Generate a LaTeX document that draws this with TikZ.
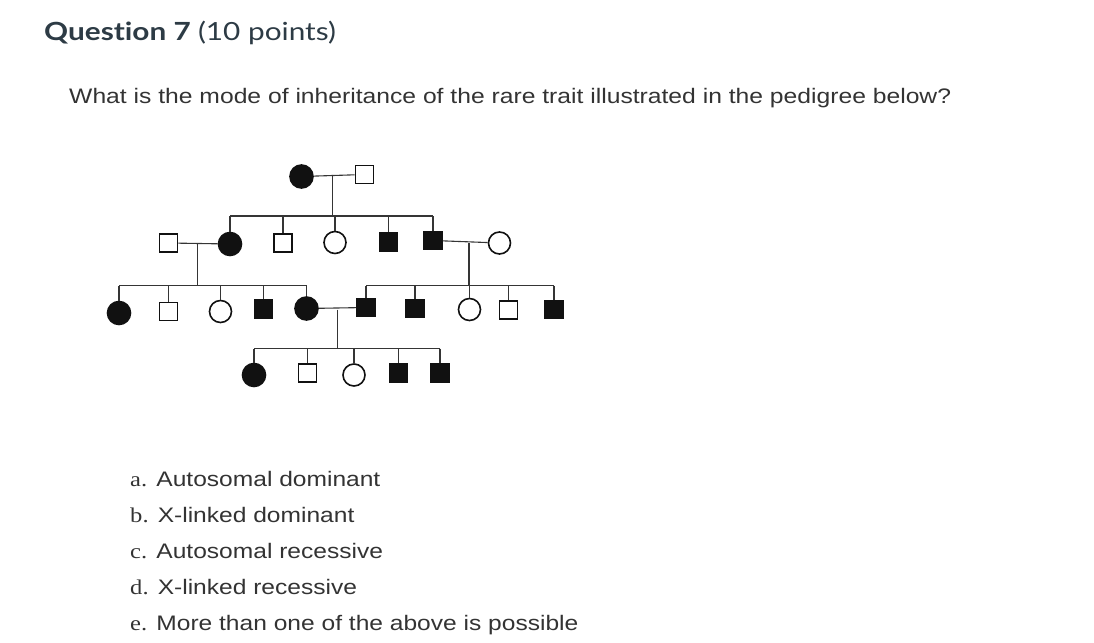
\documentclass[tikz,border=0pt]{standalone}
\usepackage{fontspec}
\setmainfont{Liberation Sans}
\newfontfamily\latofont[Ligatures=NoCommon]{Lato}
\newfontfamily\optletter{Liberation Serif}
\definecolor{headgray}{HTML}{2D3B45}
\definecolor{bodygray}{HTML}{333333}
\definecolor{pedink}{HTML}{111111}
\tikzset{
  pedline/.style={draw=pedink!85, line width=1.1pt},
  sym/.style={draw=pedink, line width=1.6pt, inner sep=0pt},
  affsq/.style={sym, rectangle, fill=pedink, minimum size=18pt},
  unsq/.style={sym, rectangle, fill=white, minimum size=18pt},
  affci/.style={sym, circle, fill=pedink, minimum size=23pt},
  unci/.style={sym, circle, fill=white, minimum size=22pt},
  wide/.style={xscale=#1, transform shape, anchor=base west, inner sep=0pt},
  opt/.style={wide=1.17, font=\fontsize{21}{24}\selectfont, text=bodygray}
}
\begin{document}
\begin{tikzpicture}[x=1pt, y=-1pt]
\useasboundingbox (0,0) rectangle (1094,642);
\node[wide=1.19, text=headgray] (title) at (44,41) {\latofont\fontsize{25}{30}\selectfont\bfseries Question 7 \mdseries(10 points)};
\node[wide=1.175, text=bodygray, font=\fontsize{21}{24}\selectfont] (question) at (69,103) {What is the mode of inheritance of the rare trait illustrated in the pedigree below?};
% generation I
\node[affci] (i1) at (301.5,176.5) {}; \node[unsq] (i2) at (364.5,174.5) {};
% generation II
\node[unsq] (ii1) at (168.5,243) {}; \node[affci] (ii2) at (230,244) {}; \node[unsq] (ii3) at (283,243) {};
\node[unci] (ii4) at (335,242.5) {}; \node[affsq] (ii5) at (388.5,242) {}; \node[affsq] (ii6) at (433,240.5) {};
\node[unci] (ii7) at (499.5,243) {};
% generation III
\node[affci] (iii1) at (119,313) {}; \node[unsq] (iii2) at (168.5,311.5) {}; \node[unci] (iii3) at (220.5,311.5) {};
\node[affsq] (iii4) at (263.5,309) {}; \node[affci] (iii5) at (306.5,308.5) {};
\node[affsq] (iii6) at (366,307.5) {}; \node[affsq] (iii7) at (415,308.5) {}; \node[unci] (iii8) at (469.5,309.5) {};
\node[unsq] (iii9) at (508.5,310) {}; \node[affsq] (iii10) at (554,309.5) {};
% generation IV
\node[affci] (iv1) at (254,375) {}; \node[unsq] (iv2) at (307.5,373) {}; \node[unci] (iv3) at (354,375) {};
\node[affsq] (iv4) at (398.5,373) {}; \node[affsq] (iv5) at (440,373) {};
% matings and sibships
\coordinate (m1) at (332.5,174.5); \coordinate (s2) at (0,216);
\coordinate (m2) at (197.5,243); \coordinate (m3) at (469,243); \coordinate (s3) at (0,285.5);
\coordinate (m4) at (337.5,309.5); \coordinate (s4) at (0,348.5);
\draw[pedline] (i1) -- (i2); \draw[pedline] (ii1) -- (ii2); \draw[pedline] (ii6) -- (ii7); \draw[pedline] (iii5) -- (iii6);
\draw[pedline] (m1) -- (m1 |- s2); \draw[pedline] (m2) -- (m2 |- s3); \draw[pedline] (m3) -- (m3 |- s3); \draw[pedline] (m4) -- (m4 |- s4);
\draw[pedline] (ii2.north |- s2) -- (ii6.north |- s2);
\draw[pedline] (iii1.north |- s3) -- (iii5.north |- s3); \draw[pedline] (iii6.north |- s3) -- (iii10.north |- s3);
\draw[pedline] (iv1.north |- s4) -- (iv5.north |- s4);
\foreach \c in {ii2,ii3,ii4,ii5,ii6} \draw[pedline] (\c.north |- s2) -- (\c.north);
\foreach \c in {iii1,iii2,iii3,iii4,iii5,iii6,iii7,iii8,iii9,iii10} \draw[pedline] (\c.north |- s3) -- (\c.north);
\foreach \c in {iv1,iv2,iv3,iv4,iv5} \draw[pedline] (\c.north |- s4) -- (\c.north);
% answer choices
\node[opt] (opta) at (130,486) {{\optletter a.} Autosomal dominant};
\node[opt] (optb) at (130,522) {{\optletter b.} X-linked dominant};
\node[opt] (optc) at (130,558) {{\optletter c.} Autosomal recessive};
\node[opt] (optd) at (130,594) {{\optletter d.} X-linked recessive};
\node[opt] (opte) at (130,630) {{\optletter e.} More than one of the above is possible};
\end{tikzpicture}
\end{document}
